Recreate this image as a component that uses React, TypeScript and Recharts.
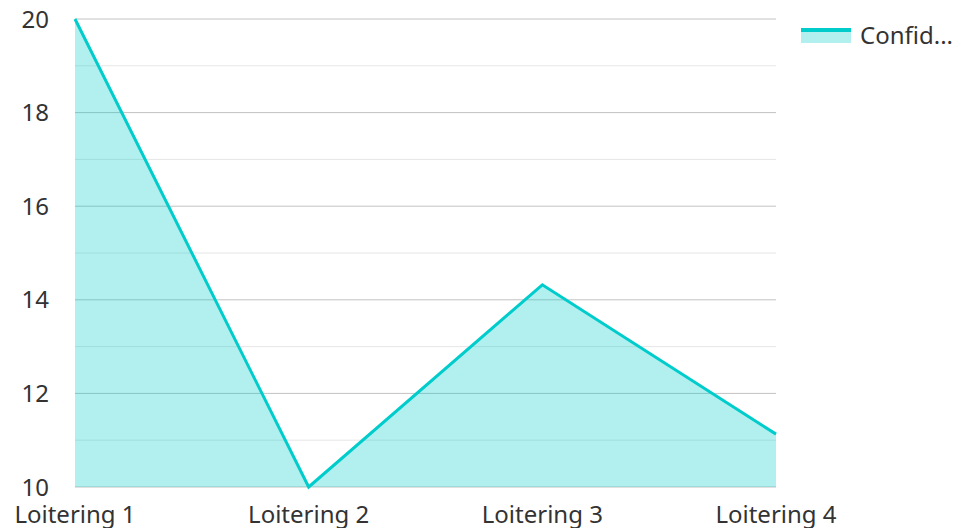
import React from 'react';
import { AreaChart, Area, XAxis, YAxis, CartesianGrid, Legend } from 'recharts';

const categories = ['Loitering 1', 'Loitering 2', 'Loitering 3', 'Loitering 4'];
const confidence = [20, 10, 14.32, 11.13];
const yTicks = [10, 11, 12, 13, 14, 15, 16, 17, 18, 19, 20];
const seriesName = 'Confid...';

const data = categories.map((c, i) => ({ name: c, value: confidence[i] }));

const FONT = '"Noto Sans", "Open Sans", sans-serif';
const LINE = '#00cccc';

const renderLegend = () => (
  <div style={{ display: 'flex', alignItems: 'center', fontFamily: FONT, fontSize: 24, color: '#333', lineHeight: '32px' }}>
    <svg width={50} height={16} style={{ marginRight: 9 }}>
      <rect x={0} y={4} width={50} height={12} fill={LINE} fillOpacity={0.3} />
      <line x1={0} x2={50} y1={3} y2={3} stroke={LINE} strokeWidth={4} />
    </svg>
    <span>{seriesName}</span>
  </div>
);

const gridLine = (props: any) => {
  const { x1, x2, y1, y2, index } = props;
  return (
    <line
      key={`g-${index}`}
      x1={x1}
      x2={x2}
      y1={y1}
      y2={y2}
      stroke={index % 2 === 0 ? '#c2c2c2' : '#e6e6e6'}
      strokeWidth={1}
    />
  );
};

export default function App() {
  return (
    <div style={{ position: 'absolute', left: 0, top: 0 }}>
      <AreaChart width={958} height={528} data={data} margin={{ top: 19, right: 182, bottom: 0, left: 0 }}>
        <CartesianGrid vertical={false} horizontal={gridLine} />
        <XAxis
          dataKey="name"
          axisLine={false}
          tickLine={false}
          height={41}
          tickMargin={13}
          interval={0}
          tick={{ fill: '#333', fontSize: 24, fontFamily: FONT }}
        />
        <YAxis
          domain={[10, 20]}
          ticks={yTicks}
          interval={0}
          axisLine={false}
          tickLine={false}
          width={75}
          tickMargin={20}
          tickFormatter={(v: number) => (v % 2 === 0 ? String(v) : '')}
          tick={{ fill: '#333', fontSize: 24, fontFamily: FONT }}
        />
        <Legend
          layout="horizontal"
          verticalAlign="middle"
          align="center"
          content={renderLegend}
          wrapperStyle={{ position: 'absolute', left: 801, top: 19, right: 'auto', bottom: 'auto', width: 157 }}
        />
        <Area
          type="linear"
          dataKey="value"
          name={seriesName}
          stroke={LINE}
          strokeWidth={3}
          fill={LINE}
          fillOpacity={0.3}
          baseValue={10}
          dot={false}
          activeDot={false}
          isAnimationActive={false}
        />
      </AreaChart>
    </div>
  );
}
